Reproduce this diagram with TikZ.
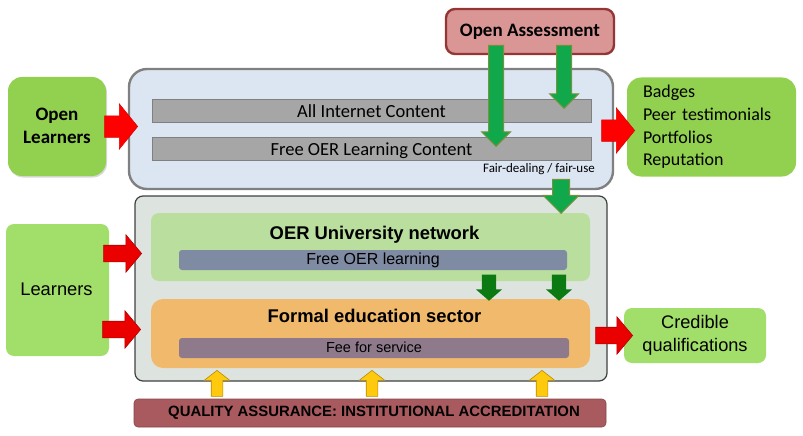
\documentclass[tikz,border=0pt]{standalone}
\usepackage{fontspec}
\setmainfont{Carlito}
\newfontfamily\arialfont{Liberation Sans}
\usetikzlibrary{shadows}
\usetikzlibrary{shapes.arrows}
\definecolor{openpink}{HTML}{D99694}
\definecolor{openpinkline}{HTML}{943634}
\definecolor{paleblue}{HTML}{DCE6F2}
\definecolor{limegreen}{HTML}{92D050}
\definecolor{softgreen}{HTML}{A2DE6A}
\definecolor{greybar}{HTML}{A6A6A6}
\definecolor{paleslate}{HTML}{DDE4E0}
\definecolor{oergreen}{HTML}{B9DE9E}
\definecolor{feeorange}{HTML}{F0B96C}
\definecolor{slatebar}{HTML}{7F8AA3}
\definecolor{mauvebar}{HTML}{8F7A8C}
\definecolor{qared}{HTML}{A85A5E}
\definecolor{arrowgreen}{HTML}{10A84A}
\definecolor{arrowgreenline}{HTML}{76923C}
\definecolor{darkgreen}{HTML}{0B7A12}
\definecolor{arrowyellow}{HTML}{FFC90E}
\tikzset{
	box/.style={rounded corners=#1, inner sep=0pt, align=center},
	greybox/.style={box=0pt, fill=greybar, draw=gray, line width=0.6pt, minimum width=439pt, minimum height=23pt, text height=13pt, text depth=0pt, font=\fontsize{18.5}{20}\selectfont},
	softbar/.style={box=3pt, minimum height=20pt},
	blockarrow/.style={single arrow, anchor=tip, minimum height=#1},
	redarrow/.style={blockarrow=#1, inner sep=8pt, fill=red!92!black, draw=red!70!black, line width=0.6pt, single arrow head extend=10.5pt, single arrow tip angle=100},
	bigred/.style={blockarrow=#1, inner sep=10.5pt, fill=red, draw=red!85!black, line width=0.5pt, single arrow head extend=12pt, single arrow tip angle=102},
	greenarrow/.style={blockarrow=#1, inner sep=7pt, fill=arrowgreen, draw=arrowgreenline, line width=1pt, single arrow head extend=7pt, single arrow tip angle=90, shape border rotate=270},
	darkarrow/.style={blockarrow=26pt, inner sep=7pt, fill=darkgreen, single arrow head extend=6pt, single arrow tip angle=98, shape border rotate=270},
	yellowarrow/.style={blockarrow=26pt, inner sep=5.5pt, fill=arrowyellow, draw=arrowyellow!70!black, line width=0.6pt, single arrow head extend=7pt, single arrow tip angle=104, shape border rotate=90},
}
\begin{document}
\begin{tikzpicture}[x=1pt, y=-1pt]
	\useasboundingbox (0,0) rectangle (803,436);

	% open content
	\node[box=18pt, fill=paleblue, draw=gray, line width=2.4pt, minimum width=484pt, minimum height=120pt] (content) at (371,129) {};
	\node[greybox] (internet) at (371.5,110.5) {All Internet Content};
	\node[greybox] (freeoer) at (371.5,148.5) {Free OER Learning Content};
	\node[font=\fontsize{13}{15}\selectfont, inner sep=0pt] (fairuse) at (539,169) {Fair-dealing / fair-use};

	\node[box=9pt, fill=openpink, draw=openpinkline, line width=2.4pt, minimum width=168pt, minimum height=45pt, font=\bfseries\fontsize{19}{22}\selectfont, drop shadow={opacity=0.15, shadow xshift=1pt, shadow yshift=-1pt}] (assess) at (530,31.5) {Open Assessment};
	\node[box=14pt, fill=limegreen, minimum width=98pt, minimum height=99pt, font=\bfseries\fontsize{19}{23}\selectfont, drop shadow={opacity=0.3, shadow xshift=1pt, shadow yshift=-1.5pt}] (openlearn) at (57,126.5) {\raisebox{1pt}{Open}\\\raisebox{1pt}{Learners}};
	\node[box=14pt, fill=limegreen, minimum width=169pt, minimum height=99pt, text width=137pt, align=left, font=\fontsize{18}{22.6}\selectfont] (badges) at (711.5,127) {Badges\\Peer testimonials\\Portfolios\\Reputation};

	% university network
	\node[box=8pt, fill=paleslate, draw=black!75, line width=1.2pt, minimum width=472pt, minimum height=185pt] (network) at (371,288.5) {};
	\node[box=8pt, fill=oergreen, minimum width=439pt, minimum height=68pt] (oeruni) at (370.5,247) {};
	\node[font=\arialfont\bfseries\fontsize{18.4}{20}\selectfont, inner sep=0pt] (oertitle) at (374.5,234.5) {OER University network};
	\node[softbar, fill=slatebar, minimum width=388pt, font=\arialfont\fontsize{16}{18}\selectfont] (freelearn) at (373,260) {Free OER learning};
	\node[box=12pt, fill=feeorange, minimum width=439pt, minimum height=69pt] (formal) at (370.5,333.5) {};
	\node[font=\arialfont\bfseries\fontsize{18.4}{20}\selectfont, inner sep=0pt] (formaltitle) at (374.5,316) {Formal education sector};
	\node[softbar, fill=mauvebar, minimum width=390pt, font=\arialfont\fontsize{14.5}{17}\selectfont] (feebar) at (374,348) {\raisebox{1pt}{Fee for service}};

	\node[box=8pt, fill=softgreen, minimum width=103pt, minimum height=132pt, font=\arialfont\fontsize{18.3}{20}\selectfont] (learners) at (57.5,290) {\hspace*{-2pt}\raisebox{1pt}{Learners}};
	\node[box=8pt, fill=softgreen, minimum width=142pt, minimum height=55pt, font=\arialfont\fontsize{18.2}{23}\selectfont] (credible) at (695,335.5) {\raisebox{1pt}{Credible}\\\raisebox{1pt}{qualifications}};
	\node[box=4pt, fill=qared, draw=qared!80!black, line width=0.6pt, minimum width=472pt, minimum height=28pt, font=\arialfont\bfseries\fontsize{14.9}{17}\selectfont] (quality) at (370,413) {\hspace*{8pt}QUALITY ASSURANCE: INSTITUTIONAL ACCREDITATION};

	% arrows
	\node[bigred=33pt] (openin) at (138,126.5) {};
	\node[bigred=33pt] (badgesin) at (635,130.5) {};
	\node[redarrow=38pt] (learnerstop) at (142,253.5) {};
	\node[redarrow=38pt] (learnersbot) at (141,329.5) {};
	\node[redarrow=37pt] (crediblein) at (633,335.5) {};
	\node[greenarrow=101pt] (assessleft) at (496,147) {};
	\node[greenarrow=63pt] (assessright) at (564,109) {};
	\node[greenarrow=34pt, inner sep=8pt, single arrow head extend=9.5pt] (fairdown) at (561,214) {};
	\node[darkarrow] (netleft) at (489,301) {};
	\node[darkarrow] (netright) at (559,301) {};
	\foreach \x/\xname in { 217/left, 372/mid, 542/right }
		\node[yellowarrow] (qa\xname) at (\x,370) {};
\end{tikzpicture}
\end{document}
